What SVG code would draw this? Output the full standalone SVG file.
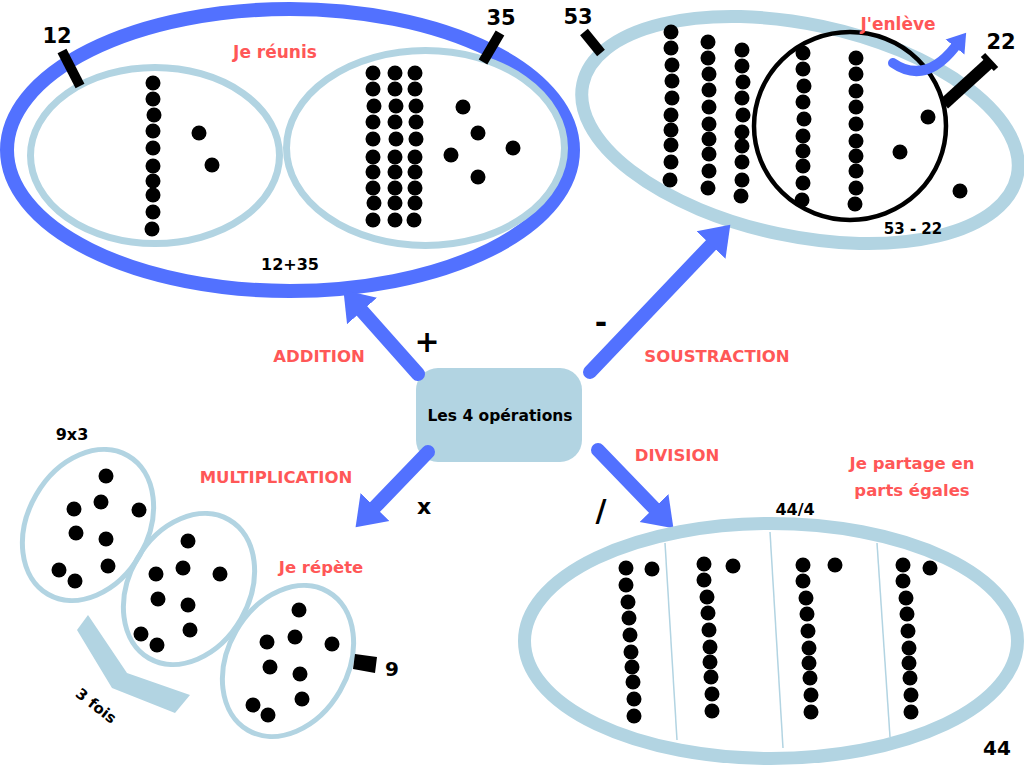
<svg xmlns="http://www.w3.org/2000/svg" width="1024" height="768" viewBox="0 0 1024 768">
<defs>
<style>
text{font-family:"DejaVu Sans","Liberation Sans",sans-serif;font-weight:bold;text-anchor:middle}
.red{fill:#ff5757}
.blk{fill:#000}
.lb{fill:none;stroke:#b2d4e2}
.dots circle{fill:#000}
.arr{fill:none;stroke:#5271ff;stroke-width:14;stroke-linecap:round;marker-end:url(#ah)}
.bar{stroke:#000;stroke-width:10}
</style>
<marker id="ah" markerUnits="userSpaceOnUse" viewBox="0 -22 30 44" markerWidth="30" markerHeight="44" refX="0" refY="0" orient="auto"><path d="M0,-20 L28,0 L0,20 Z" fill="#5271ff"/></marker>
<marker id="ah2" markerUnits="userSpaceOnUse" viewBox="0 -13 20 26" markerWidth="20" markerHeight="26" refX="0" refY="0" orient="auto"><path d="M0,-12 L18,0 L0,12 Z" fill="#5271ff"/></marker>
</defs>
<rect width="1024" height="768" fill="#fff"/>

<g id="addition">
<ellipse cx="290" cy="150" rx="283" ry="141" fill="none" stroke="#5271ff" stroke-width="14"/>
<ellipse class="lb" cx="155" cy="155.5" rx="124.5" ry="88" stroke-width="7"/>
<ellipse class="lb" cx="425.5" cy="148" rx="139" ry="97.5" stroke-width="7"/>
<g class="dots">
<circle cx="153" cy="83" r="7.5"/><circle cx="153" cy="99" r="7.5"/><circle cx="154" cy="115" r="7.5"/><circle cx="153" cy="131" r="7.5"/><circle cx="153" cy="148" r="7.5"/><circle cx="153" cy="166" r="7.5"/><circle cx="153" cy="181" r="7.5"/><circle cx="153" cy="195" r="7.5"/><circle cx="153" cy="212" r="7.5"/><circle cx="152" cy="229" r="7.5"/>
<circle cx="199" cy="133" r="7.5"/><circle cx="212" cy="165" r="7.5"/>
<circle cx="373" cy="73" r="7.5"/><circle cx="373" cy="89" r="7.5"/><circle cx="374" cy="106" r="7.5"/><circle cx="373" cy="122" r="7.5"/><circle cx="373" cy="139" r="7.5"/><circle cx="373" cy="157" r="7.5"/><circle cx="373" cy="172" r="7.5"/><circle cx="373" cy="188" r="7.5"/><circle cx="374" cy="203" r="7.5"/><circle cx="373" cy="220" r="7.5"/>
<circle cx="395" cy="73" r="7.5"/><circle cx="395" cy="89" r="7.5"/><circle cx="396" cy="106" r="7.5"/><circle cx="395" cy="122" r="7.5"/><circle cx="396" cy="139" r="7.5"/><circle cx="395" cy="157" r="7.5"/><circle cx="395" cy="172" r="7.5"/><circle cx="395" cy="188" r="7.5"/><circle cx="395" cy="203" r="7.5"/><circle cx="395" cy="220" r="7.5"/>
<circle cx="415" cy="73" r="7.5"/><circle cx="415" cy="89" r="7.5"/><circle cx="416" cy="106" r="7.5"/><circle cx="416" cy="122" r="7.5"/><circle cx="416" cy="139" r="7.5"/><circle cx="415" cy="157" r="7.5"/><circle cx="415" cy="172" r="7.5"/><circle cx="415" cy="188" r="7.5"/><circle cx="415" cy="203" r="7.5"/><circle cx="414" cy="220" r="7.5"/>
<circle cx="463" cy="107" r="7.5"/><circle cx="478" cy="133" r="7.5"/><circle cx="451" cy="155" r="7.5"/><circle cx="513" cy="148" r="7.5"/><circle cx="478" cy="177" r="7.5"/>
</g>
<line class="bar" x1="62" y1="51" x2="80" y2="86"/>
<line class="bar" x1="500" y1="33" x2="483" y2="62"/>
<text x="57" y="43" font-size="21" class="blk">12</text>
<text x="501" y="25" font-size="21" class="blk">35</text>
<text x="275" y="58" font-size="17" class="red">Je réunis</text>
<text x="290" y="270" font-size="16" class="blk">12+35</text>
</g>

<g id="soustraction">
<ellipse class="lb" cx="800" cy="130" rx="222" ry="106" stroke-width="13" transform="rotate(12 800 130)"/>
<g class="dots">
<circle cx="671" cy="32" r="7.5"/><circle cx="671" cy="48" r="7.5"/><circle cx="672" cy="65" r="7.5"/><circle cx="672" cy="81" r="7.5"/><circle cx="672" cy="98" r="7.5"/><circle cx="671" cy="115" r="7.5"/><circle cx="671" cy="130" r="7.5"/><circle cx="671" cy="145" r="7.5"/><circle cx="671" cy="162" r="7.5"/><circle cx="670" cy="180" r="7.5"/>
<circle cx="708" cy="42" r="7.5"/><circle cx="708" cy="58" r="7.5"/><circle cx="709" cy="74" r="7.5"/><circle cx="709" cy="90" r="7.5"/><circle cx="709" cy="107" r="7.5"/><circle cx="709" cy="124" r="7.5"/><circle cx="709" cy="139" r="7.5"/><circle cx="709" cy="154" r="7.5"/><circle cx="709" cy="171" r="7.5"/><circle cx="708" cy="188" r="7.5"/>
<circle cx="742" cy="50" r="7.5"/><circle cx="742" cy="66" r="7.5"/><circle cx="743" cy="82" r="7.5"/><circle cx="742" cy="98" r="7.5"/><circle cx="743" cy="115" r="7.5"/><circle cx="742" cy="132" r="7.5"/><circle cx="742" cy="146" r="7.5"/><circle cx="742" cy="162" r="7.5"/><circle cx="742" cy="180" r="7.5"/><circle cx="741" cy="196" r="7.5"/>
<circle cx="803" cy="53" r="7.5"/><circle cx="803" cy="69" r="7.5"/><circle cx="804" cy="86" r="7.5"/><circle cx="803" cy="102" r="7.5"/><circle cx="804" cy="119" r="7.5"/><circle cx="803" cy="136" r="7.5"/><circle cx="803" cy="151" r="7.5"/><circle cx="803" cy="166" r="7.5"/><circle cx="803" cy="183" r="7.5"/><circle cx="802" cy="200" r="7.5"/>
<circle cx="856" cy="58" r="7.5"/><circle cx="856" cy="74" r="7.5"/><circle cx="856" cy="91" r="7.5"/><circle cx="856" cy="107" r="7.5"/><circle cx="856" cy="124" r="7.5"/><circle cx="856" cy="141" r="7.5"/><circle cx="856" cy="156" r="7.5"/><circle cx="856" cy="171" r="7.5"/><circle cx="856" cy="188" r="7.5"/><circle cx="855" cy="204" r="7.5"/>
<circle cx="928" cy="117" r="7.5"/><circle cx="900" cy="152" r="7.5"/><circle cx="960" cy="191" r="7.5"/>
</g>
<ellipse cx="850" cy="126" rx="96" ry="94" fill="none" stroke="#000" stroke-width="4.5"/>
<line class="bar" x1="584" y1="32" x2="601" y2="53" stroke-width="11"/>
<line x1="944" y1="104" x2="989" y2="63" stroke="#000" stroke-width="12"/>
<line x1="983" y1="55" x2="996" y2="69" stroke="#000" stroke-width="6"/>
<path d="M893,63 Q925,85 955,47" fill="none" stroke="#5271ff" stroke-width="10" stroke-linecap="round" marker-end="url(#ah2)"/>
<text x="578" y="24" font-size="21" class="blk">53</text>
<text x="1001" y="49" font-size="21" class="blk">22</text>
<text x="898" y="30" font-size="17" class="red">J'enlève</text>
<text x="913" y="234" font-size="15" class="blk">53 - 22</text>
</g>

<g id="center">
<rect x="416" y="368" width="166" height="94" rx="22" fill="#b2d4e2"/>
<text x="500" y="421" font-size="15.5" class="blk">Les 4 opérations</text>
</g>

<g id="connectors">
<line class="arr" x1="418" y1="374" x2="362" y2="311"/>
<line class="arr" x1="590" y1="372" x2="711" y2="245"/>
<line class="arr" x1="428" y1="452" x2="375" y2="507"/>
<line class="arr" x1="598" y1="450" x2="654" y2="508"/>
</g>

<g id="labels">
<text x="319" y="362" font-size="16.5" class="red">ADDITION</text>
<text x="427" y="352" font-size="30" class="blk" font-weight="normal">+</text>
<text x="717" y="362" font-size="16.5" class="red">SOUSTRACTION</text>
<text x="601" y="333" font-size="30" class="blk">-</text>
<text x="276" y="483" font-size="16.5" class="red">MULTIPLICATION</text>
<text x="424" y="514" font-size="22" class="blk" font-weight="normal">x</text>
<text x="677" y="461" font-size="16.5" class="red">DIVISION</text>
<text x="601" y="521" font-size="30" class="blk" font-weight="normal">/</text>
</g>

<g id="multiplication">
<ellipse class="lb" cx="88" cy="525" rx="60" ry="80" stroke-width="5" transform="rotate(30 88 525)"/>
<ellipse class="lb" cx="189" cy="589" rx="60" ry="80" stroke-width="5" transform="rotate(30 189 589)"/>
<ellipse class="lb" cx="288" cy="661" rx="60" ry="80" stroke-width="5" transform="rotate(30 288 661)"/>
<polygon points="88,615 127,673 190,695 175,713 112,688 77,630" fill="#b2d4e2"/>
<g class="dots">
<circle cx="106" cy="476" r="7.5"/><circle cx="74" cy="509" r="7.5"/><circle cx="101" cy="502" r="7.5"/><circle cx="139" cy="510" r="7.5"/><circle cx="76" cy="533" r="7.5"/><circle cx="106" cy="539" r="7.5"/><circle cx="108" cy="566" r="7.5"/><circle cx="59" cy="570" r="7.5"/><circle cx="75" cy="581" r="7.5"/>
<circle cx="188" cy="541" r="7.5"/><circle cx="156" cy="574" r="7.5"/><circle cx="183" cy="568" r="7.5"/><circle cx="220" cy="574" r="7.5"/><circle cx="158" cy="599" r="7.5"/><circle cx="188" cy="605" r="7.5"/><circle cx="190" cy="630" r="7.5"/><circle cx="141" cy="634" r="7.5"/><circle cx="157" cy="645" r="7.5"/>
<circle cx="299" cy="610" r="7.5"/><circle cx="267" cy="642" r="7.5"/><circle cx="295" cy="637" r="7.5"/><circle cx="332" cy="644" r="7.5"/><circle cx="270" cy="667" r="7.5"/><circle cx="300" cy="674" r="7.5"/><circle cx="302" cy="699" r="7.5"/><circle cx="253" cy="705" r="7.5"/><circle cx="268" cy="715" r="7.5"/>
</g>
<polygon points="355,654 377,657 375,673 353,669" fill="#000"/>
<text x="72" y="440" font-size="16" class="blk">9x3</text>
<text x="321" y="573" font-size="16.5" class="red">Je répète</text>
<text x="392" y="676" font-size="20" class="blk">9</text>
<text x="96" y="711" font-size="15" class="blk" transform="rotate(38 96 706)">3 fois</text>
</g>

<g id="division">
<ellipse class="lb" cx="771" cy="641" rx="246.5" ry="117.5" stroke-width="13"/>
<g stroke="#b2d4e2" stroke-width="1.5">
<line x1="665" y1="543" x2="677" y2="740"/>
<line x1="770" y1="532" x2="783" y2="748"/>
<line x1="877" y1="543" x2="890" y2="737"/>
</g>
<g class="dots">
<circle cx="626" cy="568" r="7.5"/><circle cx="626" cy="585" r="7.5"/><circle cx="628" cy="602" r="7.5"/><circle cx="629" cy="618" r="7.5"/><circle cx="630" cy="635" r="7.5"/><circle cx="631" cy="652" r="7.5"/><circle cx="632" cy="667" r="7.5"/><circle cx="633" cy="682" r="7.5"/><circle cx="634" cy="699" r="7.5"/><circle cx="634" cy="716" r="7.5"/><circle cx="652" cy="569" r="7.5"/>
<circle cx="704" cy="564" r="7.5"/><circle cx="704" cy="580" r="7.5"/><circle cx="707" cy="597" r="7.5"/><circle cx="708" cy="613" r="7.5"/><circle cx="709" cy="630" r="7.5"/><circle cx="710" cy="647" r="7.5"/><circle cx="710" cy="662" r="7.5"/><circle cx="711" cy="677" r="7.5"/><circle cx="712" cy="694" r="7.5"/><circle cx="712" cy="711" r="7.5"/><circle cx="733" cy="566" r="7.5"/>
<circle cx="803" cy="565" r="7.5"/><circle cx="803" cy="581" r="7.5"/><circle cx="806" cy="598" r="7.5"/><circle cx="807" cy="614" r="7.5"/><circle cx="808" cy="631" r="7.5"/><circle cx="809" cy="648" r="7.5"/><circle cx="809" cy="663" r="7.5"/><circle cx="810" cy="678" r="7.5"/><circle cx="811" cy="695" r="7.5"/><circle cx="811" cy="712" r="7.5"/><circle cx="835" cy="565" r="7.5"/>
<circle cx="903" cy="565" r="7.5"/><circle cx="903" cy="581" r="7.5"/><circle cx="906" cy="598" r="7.5"/><circle cx="907" cy="614" r="7.5"/><circle cx="908" cy="631" r="7.5"/><circle cx="909" cy="648" r="7.5"/><circle cx="909" cy="663" r="7.5"/><circle cx="910" cy="678" r="7.5"/><circle cx="911" cy="695" r="7.5"/><circle cx="911" cy="712" r="7.5"/><circle cx="930" cy="568" r="7.5"/>
</g>
<text x="795" y="515" font-size="16" class="blk">44/4</text>
<text x="912" y="469" font-size="16.5" class="red">Je partage en</text>
<text x="912" y="496" font-size="16.5" class="red">parts égales</text>
<text x="997" y="755" font-size="20" class="blk">44</text>
</g>
</svg>
